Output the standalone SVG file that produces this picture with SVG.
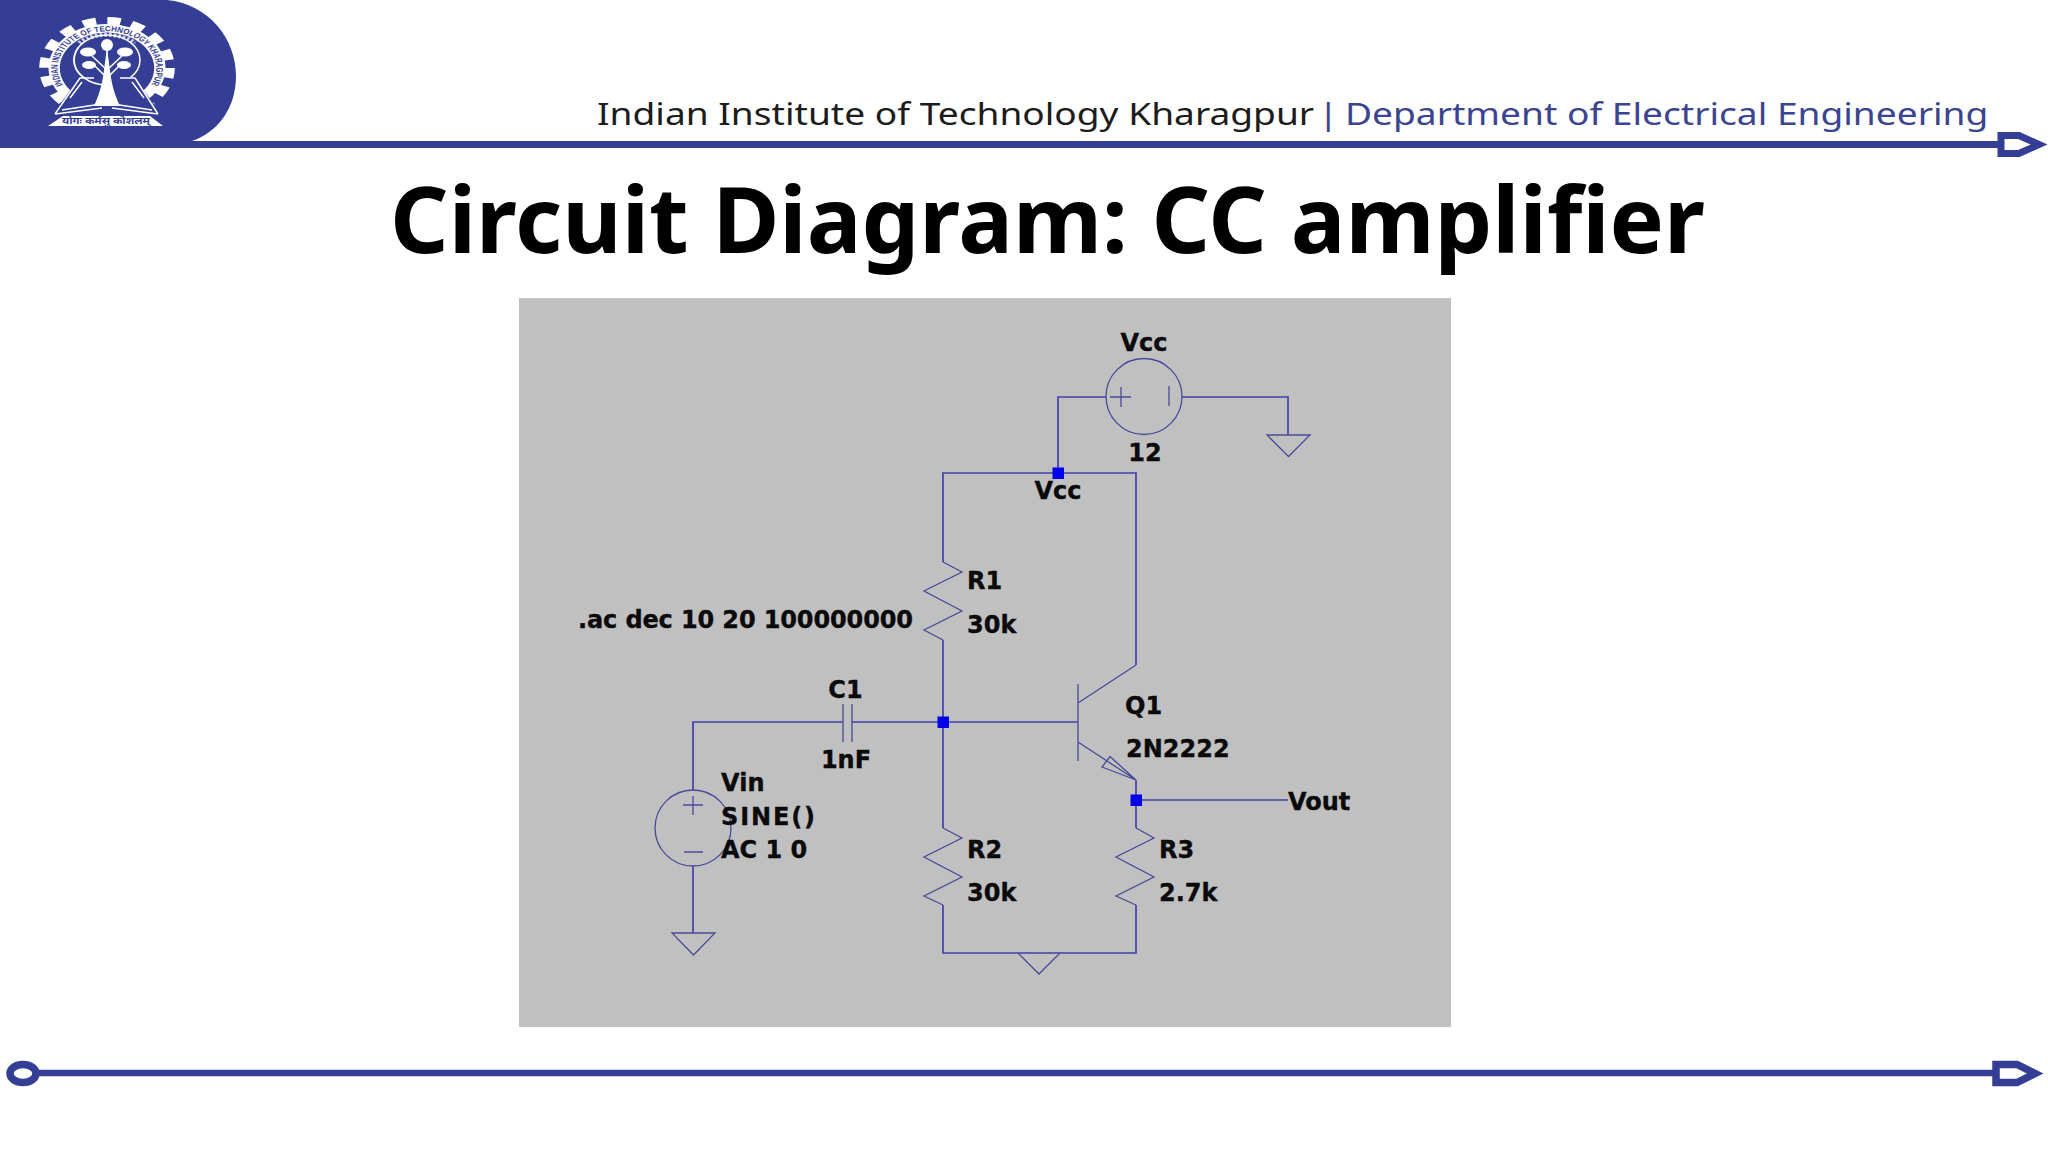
<svg xmlns="http://www.w3.org/2000/svg" width="2048" height="1152" viewBox="0 0 2048 1152">
<style>
.w{fill:none;stroke:#4040ac;stroke-width:1.7}
.s{fill:none;stroke:#4a4a9a;stroke-width:1.3}
.j{fill:#0000ec}
.t{font-family:"DejaVu Sans",sans-serif;font-weight:700;font-size:24px;fill:#0a0a0a;stroke:#0a0a0a;stroke-width:.35}
.b{fill:#333e94}
.bl{fill:none;stroke:#333e94}
.h{font-family:"Noto Sans","Open Sans",sans-serif;font-size:31px}
.lw{fill:none;stroke:#fff;stroke-linejoin:round}
</style>
<defs>
<path id="ring" d="M-33 17A37 37 0 1 1 33 17"/>
</defs>
<rect width="2048" height="1152" fill="#fff"/>
<g id="logo">
<path class="b" d="M0 0H167C208 4 236 38 236 76C236 108 218 132 192 141H2000V148H0Z"/>
<g transform="translate(107 68) scale(1.33 1)">
<circle r="47" fill="none" stroke="#fff" stroke-width="8" stroke-dasharray="10 8.450"/>
<circle r="44" fill="#fff"/>
<circle r="35.500" class="b"/>
<text font-family="Liberation Sans,sans-serif" font-size="7.500" font-weight="700" fill="#333e94"><textPath href="#ring" textLength="150" lengthAdjust="spacingAndGlyphs">INDIAN INSTITUTE OF TECHNOLOGY KHARAGPUR</textPath></text>
<path class="lw" stroke-width="4" stroke-dasharray="2 1.500" opacity=".75" d="M-21 -6A31 31 0 0 1 21 -6" transform="translate(0 -19)"/>
</g>
<ellipse cx="107" cy="60" rx="33" ry="25" class="lw" stroke-width="1.500"/>
<path class="b" d="M50 118L80 77H134L164 118Z"/>
<ellipse cx="107" cy="60" rx="33" ry="25" class="lw" stroke-width="1.500" stroke-dasharray="60 90" stroke-dashoffset="105"/>
<path d="M107 50C103 70 105 82 94 106H120C109 82 111 70 107 50Z" fill="#fff"/>
<path class="lw" stroke-width="1.500" d="M107 70L92 56M107 70L122 56M107 78L95 66M107 78L119 66M107 62V48"/>
<ellipse cx="107" cy="45" rx="6" ry="6" fill="#fff"/>
<ellipse cx="88" cy="52" rx="8" ry="4.500" fill="#fff"/>
<ellipse cx="125" cy="52" rx="8" ry="4.500" fill="#fff"/>
<ellipse cx="89" cy="65" rx="7" ry="4" fill="#fff"/>
<ellipse cx="124" cy="65" rx="7" ry="4" fill="#fff"/>
<path class="lw" stroke-width="1.500" d="M55 114L80 78H94M158 114L135 78H120M55 114L102 108M158 114L112 108M62 110L101 104M152 110L113 104M70 98L82 82M144 98L132 82"/>
<path d="M48 126L63 116H150L163 126Z" fill="#fff"/>
<text x="62" y="124" textLength="88" lengthAdjust="spacingAndGlyphs" font-family="Noto Sans,sans-serif" font-size="9" font-weight="700" fill="#333e94">योगः कर्मसु कौशलम्</text>
<text x="107" y="105" text-anchor="middle" font-family="Noto Sans,sans-serif" font-size="6" fill="#fff">1951</text>
</g>
<g id="header">
<text class="h" transform="translate(597 125) scale(1.197 1)" fill="#1c1c1c">Indian Institute of Technology Kharagpur</text>
<text class="h" transform="translate(1318 125) scale(1.197 1)" fill="#3b4490">|</text>
<text class="h" transform="translate(1345 125) scale(1.197 1)" fill="#3b4490">Department of Electrical Engineering</text>
<path d="M2001 135.500H2019L2039 144.500L2019 153.500H2001Z" fill="#fff" stroke="#333e94" stroke-width="7"/>
</g>
<text id="title" x="1047.500" y="253" text-anchor="middle" font-family="Noto Sans,Open Sans,sans-serif" font-weight="700" font-size="91.400px" fill="#000">Circuit Diagram: CC amplifier</text>
<rect id="schematic" x="519" y="298" width="932" height="729" fill="#c0c0c0"/>
<g id="connectors">
<path class="w" d="M1106 397H1058V473"/>
<path class="w" d="M943 562V473H1136V665"/>
<path class="w" d="M1182 397H1288V435"/>
<path class="w" d="M693 790V722H843"/>
<path class="w" d="M852 722H1078"/>
<path class="w" d="M943 640V828"/>
<path class="w" d="M693 866V933"/>
<path class="w" d="M943 905V953H1136V905"/>
<path class="w" d="M1136 780V828"/>
<path class="w" d="M1136 800H1288"/>
<rect class="j" x="1052.500" y="467.500" width="11.500" height="11.500"/>
<rect class="j" x="937.500" y="716.500" width="11.500" height="11.500"/>
<rect class="j" x="1130.500" y="794.500" width="11.500" height="11.500"/>
</g>
<g id="Vcc">
<circle class="s" cx="1144" cy="396.500" r="38"/>
<path class="s" d="M1110 397H1131M1121 387V407M1169 386V406"/>
<text class="t" x="1144" y="351" text-anchor="middle">Vcc</text>
<text class="t" x="1145" y="461" text-anchor="middle">12</text>
</g>
<g id="VccLabel"><text class="t" x="1058" y="499" text-anchor="middle">Vcc</text></g>
<g id="gnd1"><path class="s" d="M1267 435H1310L1288.500 456.500Z"/></g>
<g id="gnd2"><path class="s" d="M1018 953L1039 974L1060 953"/></g>
<g id="gnd3"><path class="s" d="M672 933H715L693.500 955Z"/></g>
<g id="R1">
<path class="s" d="M943 562L962 572L924 591L962 611L924 630L943 640"/>
<text class="t" x="967" y="589">R1</text>
<text class="t" x="967" y="633">30k</text>
</g>
<g id="directive"><text class="t" x="578" y="627.500" textLength="335">.ac dec 10 20 100000000</text></g>
<g id="C1">
<path class="s" d="M843 704V742M852 704V742"/>
<text class="t" x="845.500" y="697.500" text-anchor="middle">C1</text>
<text class="t" x="846" y="767.500" text-anchor="middle">1nF</text>
</g>
<g id="Vin">
<circle class="s" cx="693" cy="828" r="38"/>
<path class="s" d="M683 805H703M693 796V815M684 852H703"/>
<text class="t" x="721" y="790.500">Vin</text>
<text class="t" x="721" y="825" textLength="94">SINE()</text>
<text class="t" x="721" y="858">AC 1 0</text>
</g>
<g id="R2">
<path class="s" d="M943 828L962 838L924 857L962 877L924 896L943 905"/>
<text class="t" x="967" y="858">R2</text>
<text class="t" x="967" y="901">30k</text>
</g>
<g id="Q1">
<path class="s" d="M1078 684V761M1136 665L1078 703M1078 742L1136 780M1136 780L1110 756.500L1102 767Z"/>
<text class="t" x="1125" y="714">Q1</text>
<text class="t" x="1126" y="757">2N2222</text>
</g>
<g id="Vout"><text class="t" x="1288" y="810">Vout</text></g>
<g id="R3">
<path class="s" d="M1136 828L1154 838L1116 857L1154 877L1116 896L1136 905"/>
<text class="t" x="1159" y="858">R3</text>
<text class="t" x="1159" y="901">2.7k</text>
</g>
<g id="footer">
<path class="bl" stroke-width="6.500" d="M38 1073H1996"/>
<ellipse cx="23" cy="1073.500" rx="13" ry="9" fill="#fff" stroke="#333e94" stroke-width="7.500"/>
<path d="M1996 1064.500H2017L2035 1073.500L2017 1082.500H1996Z" fill="#fff" stroke="#333e94" stroke-width="7.500"/>
</g>
</svg>
